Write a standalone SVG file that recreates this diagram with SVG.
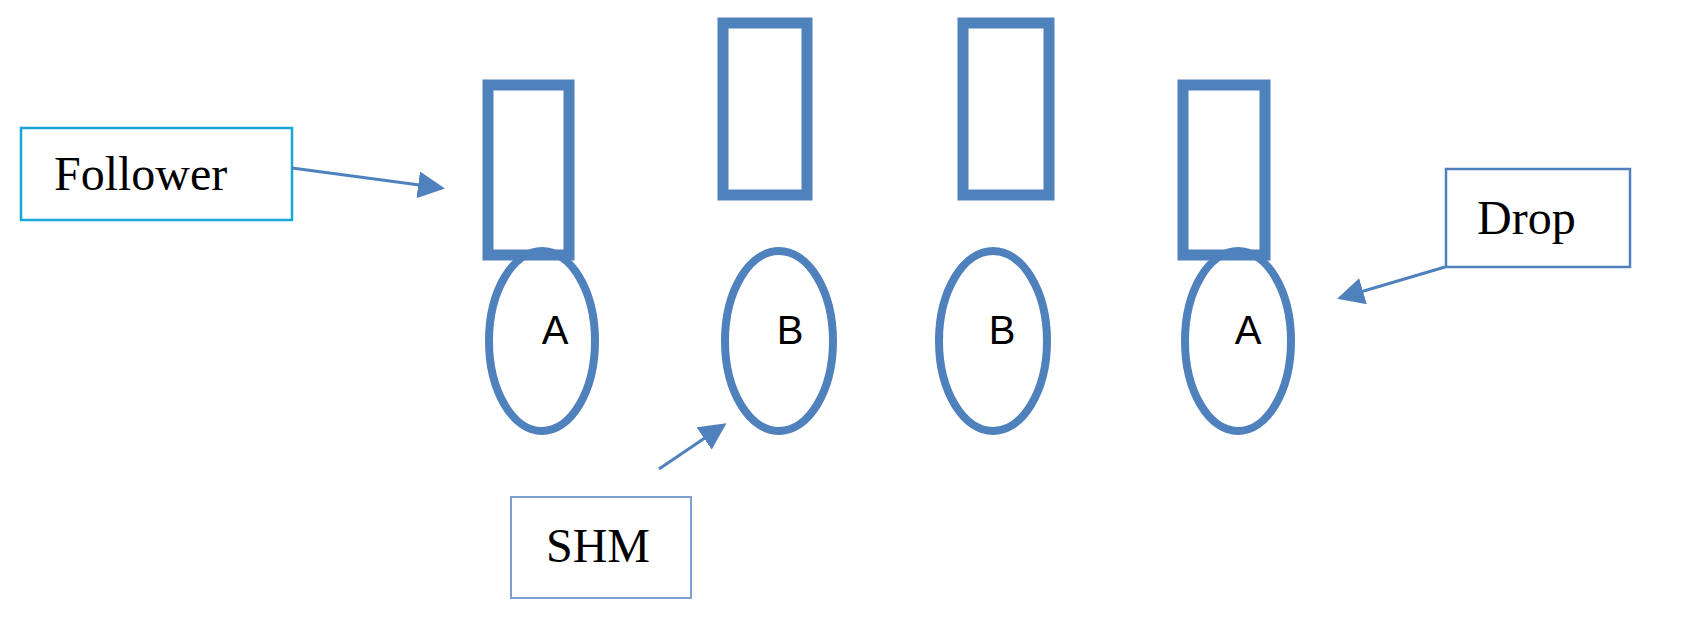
<svg xmlns="http://www.w3.org/2000/svg" width="1683" height="634" viewBox="0 0 1683 634">
<style>
.bar{fill:none;stroke:#4f81bd;stroke-width:11}
.ell{fill:none;stroke:#4f81bd;stroke-width:8}
.lab{font-family:"Liberation Sans",Arial,sans-serif;font-size:40px;fill:#000;text-anchor:middle}
.t{font-family:"Liberation Serif","Times New Roman",serif;font-size:48px;fill:#000}
.ln{stroke:#4f81bd;stroke-width:3;fill:none;marker-end:url(#ah)}
</style>
<defs><marker id="ah" markerWidth="9" markerHeight="9" refX="8" refY="4.5" orient="auto" markerUnits="strokeWidth"><path d="M0,0 L9,4.5 L0,9 Z" fill="#4f81bd"/></marker></defs>
<rect width="1683" height="634" fill="#fff"/>
<g id="follower-box"><rect x="21" y="128" width="271" height="92" fill="#fff" stroke="#1aa5d8" stroke-width="2.5"/><text class="t" x="54" y="190">Follower</text></g>
<g id="drop-box"><rect x="1446" y="169" width="184" height="98" fill="#fff" stroke="#4f81bd" stroke-width="2.5"/><text class="t" x="1477" y="234">Drop</text></g>
<g id="shm-box"><rect x="511" y="497" width="180" height="101" fill="#fff" stroke="#7f9fd0" stroke-width="2"/><text class="t" x="598" y="562" text-anchor="middle">SHM</text></g>
<g id="cam1"><ellipse class="ell" cx="542" cy="341" rx="53" ry="90"/><rect class="bar" x="488" y="85" width="81" height="170"/><text class="lab" x="555" y="344">A</text></g>
<g id="cam2"><ellipse class="ell" cx="779" cy="341" rx="54" ry="90"/><rect class="bar" x="723" y="23" width="84" height="172"/><text class="lab" x="790" y="344">B</text></g>
<g id="cam3"><ellipse class="ell" cx="993" cy="341" rx="54" ry="90"/><rect class="bar" x="963" y="23" width="86" height="172"/><text class="lab" x="1002" y="344">B</text></g>
<g id="cam4"><ellipse class="ell" cx="1238" cy="341" rx="53" ry="90"/><rect class="bar" x="1183" y="85" width="82" height="170"/><text class="lab" x="1248" y="344">A</text></g>
<g id="connectors">
<line class="ln" x1="292" y1="168" x2="442" y2="188"/>
<line class="ln" x1="1445" y1="267" x2="1340" y2="298"/>
<line class="ln" x1="659" y1="469" x2="724" y2="425"/>
</g>
</svg>
